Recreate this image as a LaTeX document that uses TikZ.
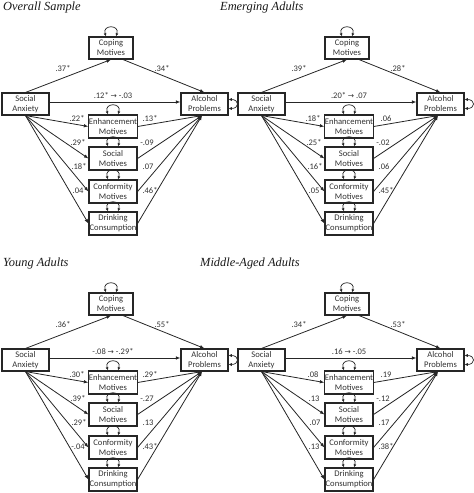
\documentclass[tikz,border=0pt]{standalone}
\usepackage{fontspec}
\setmainfont{Carlito}
\newfontfamily\titlefont{Liberation Serif}
\newfontfamily\symfont{DejaVu Sans}
\usetikzlibrary{arrows.meta}

\tikzset{
 box/.style={draw=black!85, line width=1.1pt, fill=white, inner sep=0pt, minimum height=22pt, align=center, font=\fontsize{8.6}{10}\selectfont, text=black!80},
 arr/.style={draw=black!85, line width=0.8pt, -{Latex[length=4.5pt,width=3.6pt]}},
 loopst/.style={draw=black!85, line width=0.7pt, {Latex[length=3.2pt,width=3pt]}-{Latex[length=3.2pt,width=3pt]}},
 lab/.style={font=\fontsize{8.5}{9}\selectfont, text=black!80, inner sep=0pt},
 ttl/.style={font=\titlefont\itshape\fontsize{12.4}{14}\selectfont, anchor=base west, inner sep=0pt, text=black!90},
}

\newcommand\SetLabsA[9]{\def\LabA{#1}\def\LabB{#2}\def\LabC{#3}\def\LabD{#4}\def\LabE{#5}\def\LabF{#6}\def\LabG{#7}\def\LabH{#8}\def\LabI{#9}}
\newcommand\SetLabsB[2]{\def\LabJ{#1}\def\LabK{#2}}
\newcommand\VarLoop[1]{\draw[loopst] ([xshift=-5pt]#1.north) .. controls +(-4,-12) and +(4,-12) .. ([xshift=5pt]#1.north);}
\newcommand\RArr{ {\symfont\fontsize{7.5}{9}\selectfont →} }

\newcommand\PanelBody{%
 \node[box, minimum width=47pt] (sa) at (25.5,104) {Social\\Anxiety};
 \node[box, minimum width=47pt] (ap) at (204.5,104) {Alcohol\\Problems};
 \node[box, minimum width=44pt] (cop) at (111,48) {Coping\\Motives};
 \node[box, minimum width=48pt, minimum height=23pt] (enh) at (113,126.5) {Enhancement\\Motives};
 \node[box, minimum width=48pt, minimum height=23pt] (soc) at (113,158.5) {Social\\Motives};
 \node[box, minimum width=48pt, minimum height=23pt] (con) at (113,191.5) {Conformity\\Motives};
 \node[box, minimum width=48pt, minimum height=23pt] (dri) at (113,223.5) {Drinking\\Consumption};
 \coordinate (apin) at ([xshift=-2.5pt]ap.south);
 \draw[arr] (sa.north) -- (cop.south);
 \draw[arr] ([xshift=12pt]cop.south) -- (ap.north);
 \draw[arr] ([yshift=2pt]sa.east) -- ([yshift=2pt]ap.west);
 \foreach \m in {enh,soc,con,dri}{%
   \draw[arr] (sa.south) -- (\m.west);
   \draw[arr] (\m.east) -- (apin);
   \VarLoop{\m}
 }
 \VarLoop{cop}
 \draw[loopst] ([yshift=4.5pt]ap.east) .. controls +(11,0) and +(11,0) .. ([yshift=-4.5pt]ap.east);
 \node[lab] (l1) at (63,69) {\LabA};
 \node[lab] (l2) at (162,69) {\LabB};
 \node[lab] (l3) at (113,96) {\LabC};
 \node[lab] (l4) at (77,119) {\LabD};
 \node[lab] (l5) at (150,119) {\LabE};
 \node[lab] (l6) at (78,143) {\LabF};
 \node[lab] (l7) at (147,143) {\LabG};
 \node[lab] (l8) at (79,167) {\LabH};
 \node[lab] (l9) at (148,167) {\LabI};
 \node[lab] (l10) at (78,191) {\LabJ};
 \node[lab] (l11) at (150,191) {\LabK};
}

\begin{document}
\begin{tikzpicture}[x=1pt,y=-1pt]
\useasboundingbox (0,0) rectangle (474,493);

\begin{scope}[name prefix=A-]
 \node[ttl] (title) at (3,10) {Overall Sample};
 \SetLabsA{.37*}{.34*}{.12*\RArr-.03}{.22*}{.13*}{.29*}{-.09}{.18*}{.07}
 \SetLabsB{.04}{.46*}
 \PanelBody
\end{scope}

\begin{scope}[shift={(236,0)}, name prefix=B-]
 \node[ttl] (title) at (-16,10) {Emerging Adults};
 \SetLabsA{.39*}{.28*}{.20*\RArr.07}{.18*}{.06}{.25*}{-.02}{.16*}{.06}
 \SetLabsB{.05}{.45*}
 \PanelBody
\end{scope}

\begin{scope}[shift={(0,256)}, name prefix=C-]
 \node[ttl] (title) at (3,10) {Young Adults};
 \SetLabsA{.36*}{.55*}{-.08\RArr-.29*}{.30*}{.29*}{.39*}{-.27}{.29*}{.13}
 \SetLabsB{-.04}{.43*}
 \PanelBody
\end{scope}

\begin{scope}[shift={(236,256)}, name prefix=D-]
 \node[ttl] (title) at (-36,10) {Middle-Aged Adults};
 \SetLabsA{.34*}{.53*}{.16\RArr-.05}{.08}{.19}{.13}{-.12}{.07}{.17}
 \SetLabsB{.13}{.38*}
 \PanelBody
\end{scope}
\end{tikzpicture}
\end{document}
